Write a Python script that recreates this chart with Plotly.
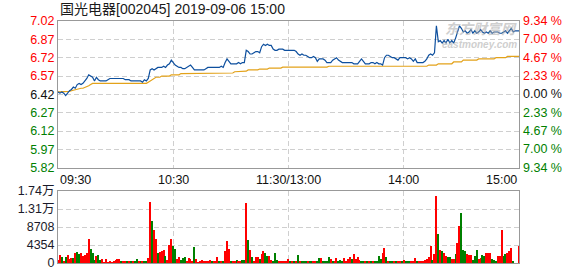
import plotly.graph_objects as go

# ---------------- data ----------------
title_text = "国光电器[002045] 2019-09-06 15:00"
prev_close = 6.42
price_ticks = [7.02, 6.87, 6.72, 6.57, 6.42, 6.27, 6.12, 5.97, 5.82]
pct_labels = ["9.34 %", "7.00 %", "4.67 %", "2.33 %", "0.00 %", "2.33 %", "4.67 %", "7.00 %", "9.34 %"]
vol_ticks = [0, 4354, 8708, 13062, 17416]
vol_tick_labels = ["0", "4354", "8708", "1.31万", "1.74万"]
time_ticks = [0, 60, 120, 180, 240]
time_labels = ["09:30", "10:30", "11:30/13:00", "14:00", "15:00"]

price = [
    6.44, 6.43, 6.44, 6.43, 6.41, 6.43, 6.45, 6.46, 6.48, 6.47,
    6.50, 6.51, 6.50, 6.51, 6.53, 6.55, 6.58, 6.57, 6.56, 6.53,
    6.56, 6.54, 6.53, 6.53, 6.53, 6.53, 6.54, 6.55, 6.55, 6.55,
    6.55, 6.55, 6.55, 6.55, 6.55, 6.54, 6.54, 6.54, 6.53, 6.53,
    6.53, 6.53, 6.53, 6.53, 6.52, 6.54, 6.53, 6.55, 6.62, 6.63,
    6.62, 6.63, 6.64, 6.64, 6.64, 6.65, 6.64, 6.66, 6.67, 6.70,
    6.68, 6.66, 6.65, 6.64, 6.64, 6.63, 6.63, 6.64, 6.65, 6.66,
    6.64, 6.62, 6.62, 6.62, 6.62, 6.62, 6.62, 6.63, 6.64, 6.64,
    6.64, 6.64, 6.64, 6.64, 6.64, 6.65, 6.64, 6.68, 6.71, 6.69,
    6.67, 6.67, 6.67, 6.67, 6.68, 6.67, 6.68, 6.68, 6.78, 6.77,
    6.75, 6.75, 6.76, 6.77, 6.77, 6.76, 6.81, 6.83, 6.82, 6.83,
    6.82, 6.82, 6.79, 6.78, 6.78, 6.79, 6.79, 6.79, 6.78, 6.78,
    6.78, 6.78, 6.78, 6.78, 6.77, 6.75, 6.74, 6.75, 6.74, 6.74,
    6.73, 6.72, 6.72, 6.73, 6.72, 6.69, 6.71, 6.71, 6.71, 6.70,
    6.68, 6.68, 6.68, 6.70, 6.71, 6.72, 6.70, 6.69, 6.68, 6.68,
    6.68, 6.68, 6.68, 6.68, 6.67, 6.67, 6.67, 6.69, 6.71, 6.69,
    6.67, 6.67, 6.67, 6.68, 6.68, 6.67, 6.68, 6.67, 6.67, 6.66,
    6.72, 6.74, 6.74, 6.73, 6.72, 6.72, 6.71, 6.70, 6.72, 6.72,
    6.72, 6.72, 6.71, 6.72, 6.71, 6.69, 6.71, 6.68, 6.68, 6.68,
    6.68, 6.69, 6.71, 6.74, 6.75, 6.74, 6.76, 6.98, 6.85, 6.86,
    6.84, 6.86, 6.84, 6.87, 6.84, 6.86, 6.84, 6.88, 6.93, 6.98,
    6.96, 6.93, 6.94, 6.92, 6.93, 6.95, 6.92, 6.94, 6.92, 6.93,
    6.95, 6.93, 6.92, 6.93, 6.92, 6.94, 6.92, 6.93, 6.93, 6.93,
    6.92, 6.92, 6.93, 6.94, 6.92, 6.94, 6.96, 6.93, 6.94, 6.94,
    6.94,
]

avg_price = [
    6.440, 6.440, 6.440, 6.440, 6.440, 6.440, 6.445, 6.450, 6.455, 6.460,
    6.460, 6.465, 6.470, 6.470, 6.475, 6.480, 6.490, 6.500, 6.510, 6.510,
    6.510, 6.510, 6.510, 6.510, 6.510, 6.510, 6.510, 6.510, 6.510, 6.510,
    6.510, 6.510, 6.510, 6.510, 6.510, 6.510, 6.510, 6.510, 6.510, 6.510,
    6.510, 6.510, 6.510, 6.510, 6.510, 6.510, 6.510, 6.520, 6.530, 6.545,
    6.550, 6.560, 6.560, 6.560, 6.570, 6.570, 6.570, 6.570, 6.570, 6.580,
    6.580, 6.580, 6.580, 6.580, 6.590, 6.590, 6.590, 6.590, 6.590, 6.590,
    6.590, 6.590, 6.590, 6.590, 6.590, 6.590, 6.590, 6.590, 6.590, 6.590,
    6.590, 6.590, 6.590, 6.590, 6.590, 6.590, 6.595, 6.595, 6.595, 6.595,
    6.595, 6.595, 6.605, 6.605, 6.605, 6.605, 6.605, 6.605, 6.610, 6.620,
    6.620, 6.620, 6.620, 6.620, 6.620, 6.627, 6.627, 6.627, 6.627, 6.627,
    6.635, 6.635, 6.635, 6.635, 6.635, 6.635, 6.635, 6.643, 6.643, 6.643,
    6.643, 6.643, 6.643, 6.643, 6.643, 6.643, 6.643, 6.643, 6.643, 6.643,
    6.643, 6.643, 6.643, 6.643, 6.643, 6.643, 6.643, 6.643, 6.643, 6.643,
    6.643, 6.650, 6.650, 6.650, 6.650, 6.650, 6.650, 6.650, 6.650, 6.650,
    6.650, 6.650, 6.650, 6.650, 6.650, 6.650, 6.650, 6.650, 6.650, 6.650,
    6.650, 6.650, 6.650, 6.650, 6.650, 6.650, 6.650, 6.650, 6.650, 6.650,
    6.650, 6.650, 6.650, 6.650, 6.650, 6.650, 6.650, 6.650, 6.650, 6.650,
    6.650, 6.650, 6.650, 6.650, 6.650, 6.650, 6.650, 6.650, 6.650, 6.650,
    6.650, 6.650, 6.650, 6.660, 6.660, 6.660, 6.660, 6.660, 6.670, 6.670,
    6.670, 6.670, 6.670, 6.670, 6.670, 6.670, 6.685, 6.685, 6.685, 6.685,
    6.685, 6.700, 6.700, 6.700, 6.700, 6.700, 6.700, 6.700, 6.700, 6.710,
    6.710, 6.710, 6.710, 6.710, 6.710, 6.710, 6.710, 6.710, 6.720, 6.720,
    6.720, 6.720, 6.720, 6.720, 6.730, 6.730, 6.730, 6.730, 6.730, 6.730,
    6.730,
]

volume = [
    600,
    1930, 1450, 320, 1450, 1930, 970, 1130, 1130, 2340, 2740,
    2100, 2340, 1770, 1930, 2340, 5800, 3390, 2340, 730, 1690,
    1930, 730, 970, 160, 970, 160, 480, 160, 480, 640,
    970, 970, 240, 240, 240, 240, 240, 240, 240, 240,
    890, 240, 240, 240, 240, 240, 1210, 14750, 10160, 7980,
    5800, 2340, 2660, 2900, 3140, 1690, 810, 4350, 5800, 4110,
    3390, 970, 1450, 730, 1290, 1450, 480, 1210, 1050, 480,
    3870, 970, 160, 480, 730, 480, 240, 480, 640, 240,
    480, 240, 1450, 240, 480, 240, 2900, 5320, 3390, 480,
    480, 240, 640, 480, 240, 730, 730, 14510, 5560, 3140,
    1450, 240, 1450, 1450, 970, 2180, 2900, 2420, 1690, 1690,
    730, 240, 2420, 730, 480, 240, 240, 240, 240, 970,
    240, 480, 240, 240, 1930, 240, 240, 240, 240, 240,
    240,
    480, 480, 480, 240, 1210, 1210, 240, 240, 240, 1450,
    970, 480, 240, 1210, 240, 730, 240, 1210, 480, 970,
    1450, 970, 2180, 970, 1450, 730, 240, 480, 240, 240,
    240, 240, 240, 240, 480, 1690, 970, 2420, 3630, 1450,
    480, 240, 480, 480, 240, 240, 480, 240, 730, 240,
    240, 240,
    240,
    240, 1210, 240, 240, 240, 240, 730, 970, 1450, 4110, 730, 2180,
    16100, 7100, 3140, 2900, 2340, 1690, 1450, 1450, 970, 970,
    2180, 4840, 8900, 12200, 3140, 2900, 2180, 1930, 1930, 730,
    1690, 3140, 970, 1210, 1930, 1690, 2420, 2420, 2420, 970,
    730, 480, 1690, 1690, 7980, 1690, 2180, 2420, 2900, 3630,
    240, 0, 0, 4110,
]

vol_dir = (
    "R"
    "RGRGRRRGRG"
    "GRRRRRGGGR"
    "GGRRRRRRRR"
    "RRGRRGRGRG"
    "GRGRGGRRGR"
    "RGRRRGRRRG"
    "GRRGGGRRRR"
    "GRRRRRRRRG"
    "RRRGRGRRRG"
    "RRGRRGGRGR"
    "GRRRGRRGGR"
    "RGGGRRRRRR"
    "GRGRGRGGGR"
    "G"
    "GRRGGRGGGG"
    "RGRRGGGRRR"
    "RGRRRRGGRG"
    "RGRGGGGRRG"
    "RGGRGRRGRG"
    "GG"
    "R"
    "RRGRRRRRRRGR"
    "RGRGRRGGRR"
    "GRRGGGRRRG"
    "GGRRGGRRRG"
    "GGRRRGGRRR"
    "GGGR"
)

# ---------------- figure ----------------
RED = "#ff0000"
GREEN = "#008000"
BLACK = "#111111"
FONT = "Liberation Sans, Arial, Noto Sans CJK SC, sans-serif"

x_idx = list(range(len(price)))
bar_colors = [RED if c == "R" else GREEN for c in vol_dir]

fig = go.Figure()
fig.add_trace(go.Scatter(x=x_idx, y=avg_price, mode="lines",
                         line=dict(color="#e3a21a", width=1.2),
                         xaxis="x", yaxis="y", hoverinfo="skip"))
fig.add_trace(go.Scatter(x=x_idx, y=price, mode="lines",
                         line=dict(color="#0d4f9e", width=1.2),
                         xaxis="x", yaxis="y", hoverinfo="skip"))
fig.add_trace(go.Bar(x=x_idx, y=volume, marker=dict(color=bar_colors, line=dict(width=0)),
                     width=0.6, xaxis="x2", yaxis="y2", hoverinfo="skip"))


def colored(v, txt):
    if v > prev_close + 1e-9:
        c = RED
    elif v < prev_close - 1e-9:
        c = GREEN
    else:
        c = BLACK
    return f'<span style="color:{c}">{txt}</span>'


price_ticktext = [colored(v, f"{v:.2f}") for v in price_ticks]

grid = dict(showgrid=True, gridcolor="#cfcfcf", gridwidth=1, griddash="5px,3px")
frame = dict(showline=True, linecolor="#999999", linewidth=1, mirror=True, zeroline=False)
LBL = 12.5

fig.update_layout(
    width=578, height=276,
    margin=dict(l=58, r=59, t=21, b=6),
    paper_bgcolor="white", plot_bgcolor="white",
    showlegend=False,
    bargap=0,
    font=dict(family=FONT, size=12, color=BLACK),
    xaxis=dict(domain=[0, 1], range=[0, 240], tickvals=time_ticks[1:4], showticklabels=False,
               anchor="y", **grid, **frame),
    yaxis=dict(domain=[98 / 249, 1], range=[price_ticks[-1], price_ticks[0]],
               tickvals=price_ticks, ticktext=price_ticktext, ticks="",
               tickfont=dict(size=LBL), anchor="x", **grid, **frame),
    xaxis2=dict(domain=[0, 1], range=[0, 240], tickvals=time_ticks[1:4], showticklabels=False,
                anchor="y2", **grid, **frame),
    yaxis2=dict(domain=[0, 74 / 249], range=[0, vol_ticks[-1]],
                tickvals=vol_ticks, ticktext=vol_tick_labels, ticks="",
                tickfont=dict(size=LBL, color="#1a1a2a"), anchor="x2", **grid, **frame),
)

annotations = []
# title
annotations.append(dict(xref="paper", yref="paper", x=0, y=1, yshift=12, xanchor="left",
                        yanchor="middle", text=title_text, showarrow=False,
                        font=dict(size=14, color="#1a1a1a")))
# right percentage labels
for v, lab in zip(price_ticks, pct_labels):
    annotations.append(dict(xref="paper", yref="y", x=1, y=v, xanchor="left", yanchor="middle",
                            xshift=2, text=colored(v, lab), showarrow=False,
                            font=dict(size=LBL)))
# time labels
anchors = ["left", "center", "center", "center", "right"]
for t, lab, a in zip(time_ticks, time_labels, anchors):
    annotations.append(dict(xref="x", yref="paper", x=t, y=98 / 249, yshift=-12,
                            xanchor=a, yanchor="middle", text=lab, showarrow=False,
                            font=dict(size=LBL, color=BLACK)))
# watermark
annotations.append(dict(xref="paper", yref="y", x=1, y=6.965, xanchor="right", yanchor="middle",
                        text="<b><i>东方财富网</i></b>", showarrow=False, opacity=0.55,
                        font=dict(size=14, color="#a8a8a8", family="Noto Sans CJK SC")))
annotations.append(dict(xref="paper", yref="y", x=1, y=6.83, xanchor="right", yanchor="middle",
                        text="<b><i>eastmoney.com</i></b>", showarrow=False, opacity=0.55,
                        font=dict(size=10, color="#a8a8a8")))
fig.update_layout(annotations=annotations)

fig.write_html("out.html")
